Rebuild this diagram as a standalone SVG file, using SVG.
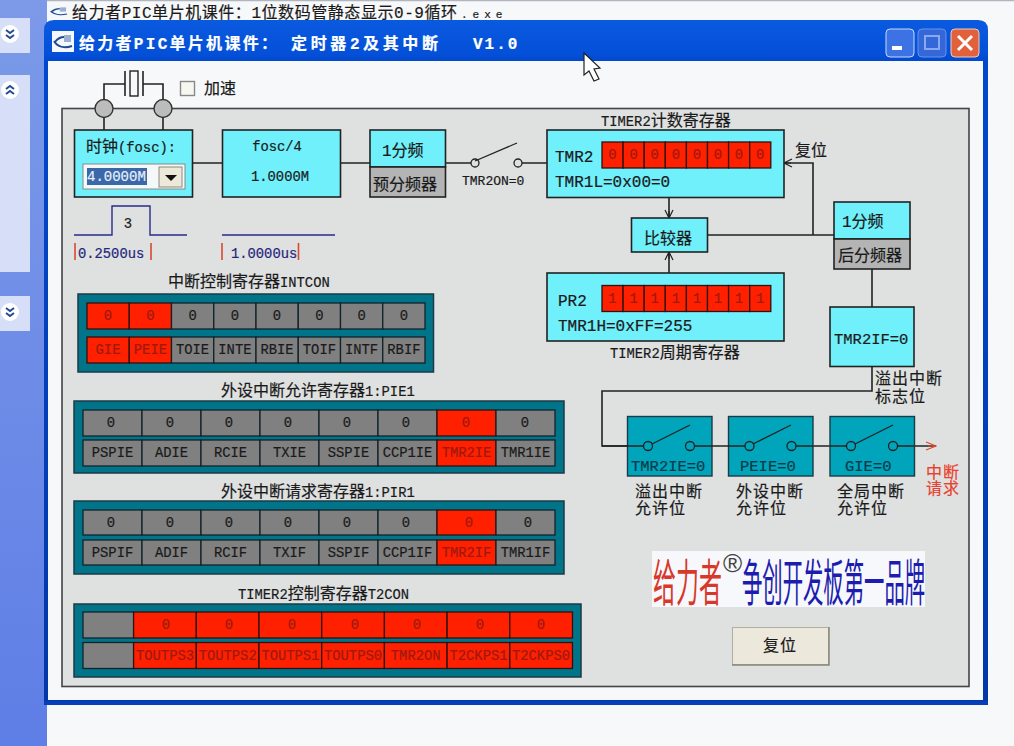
<svg xmlns="http://www.w3.org/2000/svg" width="1014" height="746" viewBox="0 0 1014 746">
<style>
text{font-family:"Liberation Mono","Noto Sans CJK SC",monospace;fill:#1a1a1a;font-size:13.8px;stroke:#1a1a1a;stroke-width:.2}
.c{font-size:16px}
.l{font-size:16px}
text.ce{text-anchor:middle}
.box{fill:#70f0fb;stroke:#222;stroke-width:1.6}
.gb{fill:#b4b4b4;stroke:#222;stroke-width:1.6}
.teal{fill:#00758a;stroke:#1c3a44;stroke-width:1.5}
.g{fill:#808080;stroke:#10222a;stroke-width:1.3}
.r{fill:#ff2000;stroke:#301010;stroke-width:1.3}
text.rt{fill:#9c1a10;stroke:#9c1a10}
.sw{fill:#00a5bb;stroke:#1c3a44;stroke-width:1.4}
.w{fill:none;stroke:#222;stroke-width:1.6}
.o{fill:none;stroke:#222;stroke-width:1.3}
.ch{fill:none;stroke:#244a90;stroke-width:2}
.p{fill:#d6dff7}
.wv{fill:none;stroke:#2a2a8c;stroke-width:1.4}
.mk{stroke:#d84a30;stroke-width:1.6}
text.nv{fill:#26267c;stroke:#26267c}
text.rq{fill:#e8402c;stroke:#e8402c;letter-spacing:1px}
text.sl{font-size:15.5px;fill:#0a3a4a;stroke:#0a3a4a}
text.ls{letter-spacing:1px}
text.tt{fill:#fff;stroke:#fff;font-weight:bold;font-size:16px}
text.lg{font-family:"Noto Sans CJK SC",sans-serif;font-size:50px;stroke:none}
</style>
<defs>
<linearGradient id="side" x1="0" y1="0" x2="0" y2="1"><stop offset="0" stop-color="#7c9ae8"/><stop offset="1" stop-color="#5f7ee6"/></linearGradient>
<linearGradient id="title" x1="0" y1="0" x2="0" y2="1"><stop offset="0" stop-color="#0a5ae0"/><stop offset=".05" stop-color="#0450d8"/><stop offset=".06" stop-color="#0248cc"/><stop offset="1" stop-color="#0238a8"/></linearGradient>
<marker id="ah" markerWidth="10" markerHeight="10" refX="9" refY="5" orient="auto" markerUnits="userSpaceOnUse"><path d="M1 1L9 5L1 9M2 5H9" fill="none" stroke="#222" stroke-width="1.2"/></marker>
<marker id="ar" markerWidth="12" markerHeight="10" refX="11" refY="5" orient="auto" markerUnits="userSpaceOnUse"><path d="M1 1L11 5L1 9M3 5H11" fill="none" stroke="#d84a30" stroke-width="1.2"/></marker>
<g id="logoIcon"><rect width="22" height="21" fill="#f4f7fc"/><path d="M2 10C6 17 14 17 20 15M3 11C6 7 9 6 12 6" fill="none" stroke="#204a90" stroke-width="2"/><rect x="12" y="4" width="7" height="7" fill="#9ab0d0"/></g>
</defs>
<rect width="1014" height="746" fill="#f7f8fa"/>
<rect width="1014" height="1.5" fill="#b0b6c0"/>
<g id="sidebar">
<rect x="0" y="0" width="47" height="746" fill="url(#side)"/>
<rect x="0" y="18" width="30" height="35" class="p"/>
<rect x="0" y="75" width="30" height="197" class="p"/>
<rect x="0" y="296" width="30" height="35" class="p"/>
<circle cx="10" cy="34" r="9" fill="#fff"/><path class="ch" d="M6 30l4 3 4-3M6 35l4 3 4-3"/>
<circle cx="10" cy="90" r="9" fill="#fff"/><path class="ch" d="M6 89l4-3 4 3M6 94l4-3 4 3"/>
<circle cx="10" cy="312" r="9" fill="#fff"/><path class="ch" d="M6 308l4 3 4-3M6 313l4 3 4-3"/>
</g>
<g id="taskbar-title">
<rect x="47" y="1.5" width="967" height="18" fill="#f7f8fa"/>
<use href="#logoIcon" transform="translate(49 5) scale(.9 .6)"/>
<text x="72" y="18" style="font-size:16px" textLength="385">给力者PIC单片机课件：1位数码管静态显示0-9循环</text>
<text x="461" y="18" style="font-size:11px;letter-spacing:5px">.exe</text>
</g>
<g id="window">
<path d="M44 705V30Q44 20 54 20H978Q988 20 988 30V705Z" fill="url(#title)"/>
<rect x="48" y="61" width="935" height="639" fill="#f7f8fa"/>
<rect x="44" y="701" width="944" height="4" fill="#0440b8"/>
<use href="#logoIcon" transform="translate(52 31)"/>
<text x="79" y="49" class="tt" textLength="198">给力者PIC单片机课件：</text>
<text x="291" y="49" class="tt" textLength="147">定时器2及其中断</text>
<text x="473" y="49" class="tt" style="letter-spacing:2px">V1.0</text>
<rect x="886" y="29" width="28" height="28" rx="4" fill="#3c72e4" stroke="#c8d8f8"/><rect x="892" y="46" width="10" height="4" fill="#fff"/>
<rect x="918" y="29" width="28" height="28" rx="4" fill="#3468d8" stroke="#6a90e8"/><rect x="925" y="36" width="14" height="13" fill="none" stroke="#8aa8ee" stroke-width="2"/>
<rect x="951" y="29" width="28" height="28" rx="4" fill="#e2603a" stroke="#e8d0c0"/><path d="M958 36l14 14M972 36l-14 14" stroke="#fff" stroke-width="3"/>
<path d="M584 53V75L589 71L594 81L599 79L594 69L600 68Z" fill="#fff" stroke="#222" stroke-width="1.2"/>
</g>
<rect id="panel" x="62" y="108.500" width="907" height="578" fill="#dfe1e1" stroke="#444" stroke-width="1.6"/>
<g id="connectors">
<path class="w" d="M104 130V84H125M143 84H163V130M193 163H222M340 163H370M445 163H471M522 163H547"/>
<path class="w" d="M707 235H834M813 235V163H784" marker-end="url(#ah)"/>
<path class="w" d="M669 197V218" marker-end="url(#ah)"/>
<path class="w" d="M669 273V252" marker-end="url(#ah)"/>
<path class="w" d="M872 269V307M872 366V391H602V446H644"/>
<path class="o" d="M475 161L517 143"/>
<path d="M897 446H936" fill="none" stroke="#222" stroke-width="1.4" marker-end="url(#ar)"/>
</g>
<g id="crystal">
<path class="w" d="M125 71V96M143 71V96"/><rect x="130" y="71" width="8" height="25" fill="#f7f8fa" stroke="#222" stroke-width="1.4"/>
<circle cx="104" cy="108.500" r="9" fill="#bcbcbc" stroke="#333" stroke-width="1.4"/>
<circle cx="163" cy="108.500" r="9" fill="#bcbcbc" stroke="#333" stroke-width="1.4"/>
</g>
<g id="accel">
<rect x="180.500" y="81.500" width="14" height="14" fill="#f7f7f2" stroke="#888" stroke-width="1.4"/>
<text x="204" y="94" class="c">加速</text>
</g>
<g id="clock">
<rect class="box" x="74.500" y="130" width="118" height="67"/>
<text x="86" y="152"><tspan class="c">时钟</tspan>(fosc):</text>
<rect x="83" y="164" width="102" height="25" fill="#f4f8f8" stroke="#8a8a80"/>
<rect x="87" y="168" width="60" height="17" fill="#3a68a8"/>
<text x="87" y="181" style="fill:#e8f0fa;stroke:#e8f0fa;font-size:14px">4.0000M</text>
<rect x="159" y="167" width="23" height="20" fill="#ece9d8" stroke="#8a8a80"/><path d="M165 175H177L171 181Z" fill="#111"/>
</g>
<g id="fosc4">
<rect class="box" x="222.500" y="130" width="118" height="67"/>
<text x="277" y="151" class="ce">fosc/4</text><text x="280" y="181" class="ce">1.0000M</text>
</g>
<g id="prescaler">
<rect class="box" x="370" y="130" width="75.500" height="37"/><rect class="gb" x="370" y="167" width="75.500" height="30"/>
<text x="382" y="156" class="c">1分频</text><text x="373" y="190" class="c">预分频器</text>
</g>
<g id="waves">
<path class="wv" d="M74 235H112V206H150V235H187M222 235H335"/>
<text x="128" y="228" class="ce">3</text>
<path class="mk" d="M75 243V260M151 243V260M222 243V260M298.500 243V260"/>
<text x="78" y="258" class="nv">0.2500us</text><text x="231" y="258" class="nv">1.0000us</text>
</g>
<g id="tmr2on">
<circle class="o" cx="475" cy="163" r="4"/><circle class="o" cx="518" cy="163" r="4"/>
<text x="462" y="185" style="font-size:13px">TMR2ON=0</text>
</g>
<g id="tmr2">
<rect class="box" x="547" y="130" width="237" height="67.500"/>
<text x="601" y="126">TIMER2<tspan class="c">计数寄存器</tspan></text>
<text x="555" y="162" class="l">TMR2</text><text x="555" y="187" class="l">TMR1L=0x00=0</text>
<rect class="r" x="602" y="142" width="21.100" height="26"/><rect class="r" x="623.100" y="142" width="21.100" height="26"/><rect class="r" x="644.200" y="142" width="21.100" height="26"/><rect class="r" x="665.300" y="142" width="21.100" height="26"/><rect class="r" x="686.400" y="142" width="21.100" height="26"/><rect class="r" x="707.500" y="142" width="21.100" height="26"/><rect class="r" x="728.600" y="142" width="21.100" height="26"/><rect class="r" x="749.700" y="142" width="21.100" height="26"/>
<text class="ce rt" x="612.500" y="159">0</text><text class="ce rt" x="633.600" y="159">0</text><text class="ce rt" x="654.700" y="159">0</text><text class="ce rt" x="675.800" y="159">0</text><text class="ce rt" x="697" y="159">0</text><text class="ce rt" x="718" y="159">0</text><text class="ce rt" x="739" y="159">0</text><text class="ce rt" x="760.200" y="159">0</text>
<text x="795" y="156" class="c">复位</text>
</g>
<g id="comparator"><rect class="box" x="631.500" y="218" width="76" height="34"/><text x="644" y="244" class="c">比较器</text></g>
<g id="postscaler">
<rect class="box" x="834" y="202" width="76" height="37"/><rect class="gb" x="834" y="239" width="76" height="30"/>
<text x="842" y="227" class="c">1分频</text><text x="838" y="261" class="c">后分频器</text>
</g>
<g id="pr2">
<rect class="box" x="547" y="273" width="237" height="68"/>
<text x="558" y="306" class="l">PR2</text><text x="558" y="331" class="l">TMR1H=0xFF=255</text>
<rect class="r" x="602" y="285.500" width="21.100" height="26"/><rect class="r" x="623.100" y="285.500" width="21.100" height="26"/><rect class="r" x="644.200" y="285.500" width="21.100" height="26"/><rect class="r" x="665.300" y="285.500" width="21.100" height="26"/><rect class="r" x="686.400" y="285.500" width="21.100" height="26"/><rect class="r" x="707.500" y="285.500" width="21.100" height="26"/><rect class="r" x="728.600" y="285.500" width="21.100" height="26"/><rect class="r" x="749.700" y="285.500" width="21.100" height="26"/>
<text class="ce rt" x="612.500" y="303">1</text><text class="ce rt" x="633.600" y="303">1</text><text class="ce rt" x="654.700" y="303">1</text><text class="ce rt" x="675.800" y="303">1</text><text class="ce rt" x="697" y="303">1</text><text class="ce rt" x="718" y="303">1</text><text class="ce rt" x="739" y="303">1</text><text class="ce rt" x="760.200" y="303">1</text>
<text x="610" y="358">TIMER2<tspan class="c">周期寄存器</tspan></text>
</g>
<g id="tmr2if">
<rect class="box" x="830" y="307" width="84" height="59.500"/>
<text x="834" y="344" style="font-size:15.500px">TMR2IF=0</text>
<text x="875" y="384" class="c ls">溢出中断</text><text x="875" y="402" class="c ls">标志位</text>
</g>
<g id="sw-tmr2ie">
<rect class="sw" x="627.500" y="416.500" width="84.500" height="59.500"/><path class="w" d="M602 446H644M694 446H712"/>
<circle class="o" cx="648" cy="446" r="4.500"/><circle class="o" cx="690" cy="446" r="4.500"/><path class="o" d="M652 444L690 425"/>
<text x="631" y="471" class="sl">TMR2IE=0</text>
<text x="635" y="497" class="c ls">溢出中断</text><text x="635" y="514" class="c ls">允许位</text>
</g>
<path class="w" d="M712 446H728M813 446H830" id="sw-links"/>
<g id="sw-peie">
<rect class="sw" x="728.500" y="416.500" width="84.500" height="59.500"/><path class="w" d="M728 446H745M796 446H813"/>
<circle class="o" cx="749.500" cy="446" r="4.500"/><circle class="o" cx="791.500" cy="446" r="4.500"/><path class="o" d="M753 444L791 425"/>
<text x="740" y="471" class="sl">PEIE=0</text>
<text x="736" y="497" class="c ls">外设中断</text><text x="736" y="514" class="c ls">允许位</text>
</g>
<g id="sw-gie">
<rect class="sw" x="830" y="416.500" width="84.500" height="59.500"/><path class="w" d="M830 446H847M897 446H914"/>
<circle class="o" cx="851" cy="446" r="4.500"/><circle class="o" cx="893" cy="446" r="4.500"/><path class="o" d="M855 444L893 425"/>
<text x="845" y="471" class="sl">GIE=0</text>
<text x="837" y="497" class="c ls">全局中断</text><text x="837" y="514" class="c ls">允许位</text>
</g>
<g id="irq"><text x="926" y="478" class="c rq">中断</text><text x="926" y="494" class="c rq">请求</text></g>
<g id="intcon">
<text x="168" y="287"><tspan class="c">中断控制寄存器</tspan>INTCON</text>
<rect class="teal" x="78" y="294" width="355.500" height="78"/>
<rect class="r" x="87" y="303" width="42.250" height="26"/><rect class="r" x="129.250" y="303" width="42.250" height="26"/><rect class="g" x="171.500" y="303" width="42.250" height="26"/><rect class="g" x="213.750" y="303" width="42.250" height="26"/><rect class="g" x="256" y="303" width="42.250" height="26"/><rect class="g" x="298.250" y="303" width="42.250" height="26"/><rect class="g" x="340.500" y="303" width="42.250" height="26"/><rect class="g" x="382.750" y="303" width="42.250" height="26"/>
<rect class="r" x="87" y="337" width="42.250" height="26"/><rect class="r" x="129.250" y="337" width="42.250" height="26"/><rect class="g" x="171.500" y="337" width="42.250" height="26"/><rect class="g" x="213.750" y="337" width="42.250" height="26"/><rect class="g" x="256" y="337" width="42.250" height="26"/><rect class="g" x="298.250" y="337" width="42.250" height="26"/><rect class="g" x="340.500" y="337" width="42.250" height="26"/><rect class="g" x="382.750" y="337" width="42.250" height="26"/>
<text class="ce rt" x="108" y="320">0</text><text class="ce rt" x="150.400" y="320">0</text><text class="ce" x="192.600" y="320">0</text><text class="ce" x="234.900" y="320">0</text><text class="ce" x="277" y="320">0</text><text class="ce" x="319.400" y="320">0</text><text class="ce" x="361.600" y="320">0</text><text class="ce" x="403.900" y="320">0</text>
<text class="ce rt" x="108" y="354">GIE</text><text class="ce rt" x="150.400" y="354">PEIE</text><text class="ce" x="192.600" y="354">TOIE</text><text class="ce" x="234.900" y="354">INTE</text><text class="ce" x="277" y="354">RBIE</text><text class="ce" x="319.400" y="354">TOIF</text><text class="ce" x="361.600" y="354">INTF</text><text class="ce" x="403.900" y="354">RBIF</text>
</g>
<g id="pie1">
<text x="221" y="396"><tspan class="c">外设中断允许寄存器</tspan>1:PIE1</text>
<rect class="teal" x="74" y="401" width="490" height="72"/>
<rect class="g" x="83" y="410" width="59" height="26"/><rect class="g" x="142" y="410" width="59" height="26"/><rect class="g" x="201" y="410" width="59" height="26"/><rect class="g" x="260" y="410" width="59" height="26"/><rect class="g" x="319" y="410" width="59" height="26"/><rect class="g" x="378" y="410" width="59" height="26"/><rect class="r" x="437" y="410" width="59" height="26"/><rect class="g" x="496" y="410" width="59" height="26"/>
<rect class="g" x="83" y="440" width="59" height="26"/><rect class="g" x="142" y="440" width="59" height="26"/><rect class="g" x="201" y="440" width="59" height="26"/><rect class="g" x="260" y="440" width="59" height="26"/><rect class="g" x="319" y="440" width="59" height="26"/><rect class="g" x="378" y="440" width="59" height="26"/><rect class="r" x="437" y="440" width="59" height="26"/><rect class="g" x="496" y="440" width="59" height="26"/>
<text class="ce" x="111" y="427">0</text><text class="ce" x="170" y="427">0</text><text class="ce" x="229" y="427">0</text><text class="ce" x="288" y="427">0</text><text class="ce" x="347" y="427">0</text><text class="ce" x="406" y="427">0</text><text class="ce rt" x="466" y="427">0</text><text class="ce" x="525" y="427">0</text>
<text class="ce" x="112.500" y="457">PSPIE</text><text class="ce" x="171.500" y="457">ADIE</text><text class="ce" x="230.500" y="457">RCIE</text><text class="ce" x="289.500" y="457">TXIE</text><text class="ce" x="348.500" y="457">SSPIE</text><text class="ce" x="407.500" y="457">CCP1IE</text><text class="ce rt" x="466.500" y="457">TMR2IE</text><text class="ce" x="525.500" y="457">TMR1IE</text>
</g>
<g id="pir1">
<text x="221" y="497"><tspan class="c">外设中断请求寄存器</tspan>1:PIR1</text>
<rect class="teal" x="74" y="501" width="490" height="73"/>
<rect class="g" x="83" y="510" width="59" height="25"/><rect class="g" x="142" y="510" width="59" height="25"/><rect class="g" x="201" y="510" width="59" height="25"/><rect class="g" x="260" y="510" width="59" height="25"/><rect class="g" x="319" y="510" width="59" height="25"/><rect class="g" x="378" y="510" width="59" height="25"/><rect class="r" x="437" y="510" width="59" height="25"/><rect class="g" x="496" y="510" width="59" height="25"/>
<rect class="g" x="83" y="540" width="59" height="25"/><rect class="g" x="142" y="540" width="59" height="25"/><rect class="g" x="201" y="540" width="59" height="25"/><rect class="g" x="260" y="540" width="59" height="25"/><rect class="g" x="319" y="540" width="59" height="25"/><rect class="g" x="378" y="540" width="59" height="25"/><rect class="r" x="437" y="540" width="59" height="25"/><rect class="g" x="496" y="540" width="59" height="25"/>
<text class="ce" x="111" y="527">0</text><text class="ce" x="170" y="527">0</text><text class="ce" x="229" y="527">0</text><text class="ce" x="288" y="527">0</text><text class="ce" x="347" y="527">0</text><text class="ce" x="406" y="527">0</text><text class="ce rt" x="469" y="527">0</text><text class="ce" x="528" y="527">0</text>
<text class="ce" x="112.500" y="557">PSPIF</text><text class="ce" x="171.500" y="557">ADIF</text><text class="ce" x="230.500" y="557">RCIF</text><text class="ce" x="289.500" y="557">TXIF</text><text class="ce" x="348.500" y="557">SSPIF</text><text class="ce" x="407.500" y="557">CCP1IF</text><text class="ce rt" x="466.500" y="557">TMR2IF</text><text class="ce" x="525.500" y="557">TMR1IF</text>
</g>
<g id="t2con">
<text x="238" y="599">TIMER2<tspan class="c">控制寄存器</tspan>T2CON</text>
<rect class="teal" x="74" y="604" width="507" height="73"/>
<rect class="g" x="83" y="612" width="50.600" height="26"/><rect class="r" x="133.600" y="612" width="62.700" height="26"/><rect class="r" x="196.300" y="612" width="62.700" height="26"/><rect class="r" x="259" y="612" width="62.700" height="26"/><rect class="r" x="321.700" y="612" width="62.700" height="26"/><rect class="r" x="384.400" y="612" width="62.700" height="26"/><rect class="r" x="447.100" y="612" width="62.700" height="26"/><rect class="r" x="509.800" y="612" width="62.700" height="26"/>
<rect class="g" x="83" y="642.500" width="50.600" height="26"/><rect class="r" x="133.600" y="642.500" width="62.700" height="26"/><rect class="r" x="196.300" y="642.500" width="62.700" height="26"/><rect class="r" x="259" y="642.500" width="62.700" height="26"/><rect class="r" x="321.700" y="642.500" width="62.700" height="26"/><rect class="r" x="384.400" y="642.500" width="62.700" height="26"/><rect class="r" x="447.100" y="642.500" width="62.700" height="26"/><rect class="r" x="509.800" y="642.500" width="62.700" height="26"/>
<text class="ce rt" x="166" y="629">0</text><text class="ce rt" x="229" y="629">0</text><text class="ce rt" x="292" y="629">0</text><text class="ce rt" x="355" y="629">0</text><text class="ce rt" x="417" y="629">0</text><text class="ce rt" x="480" y="629">0</text><text class="ce rt" x="541" y="629">0</text>
<text class="ce rt" x="165" y="660">TOUTPS3</text><text class="ce rt" x="227.700" y="660">TOUTPS2</text><text class="ce rt" x="290.400" y="660">TOUTPS1</text><text class="ce rt" x="353" y="660">TOUTPS0</text><text class="ce rt" x="415.700" y="660">TMR2ON</text><text class="ce rt" x="478.500" y="660">T2CKPS1</text><text class="ce rt" x="541" y="660">T2CKPS0</text>
</g>
<g id="logo">
<rect x="652" y="551" width="273" height="56" fill="#f6f8fc"/>
<text class="lg" transform="translate(653 601) scale(.46 1)" style="fill:#d8382a">给力者</text>
<text x="723" y="572" style="font-family:'Liberation Sans',sans-serif;font-size:26px;fill:#444;stroke:none">®</text>
<text class="lg" transform="translate(742 601) scale(.407 1)" style="fill:#1c1cae">争创开发板第一品牌</text>
</g>
<g id="reset">
<rect x="732.500" y="627.500" width="96" height="37" fill="#ece9dc" stroke="#b0aea0"/><path d="M829 627V665H732" fill="none" stroke="#8a8878" stroke-width="1.500"/>
<text x="763" y="651" class="c ls">复位</text>
</g>
</svg>
